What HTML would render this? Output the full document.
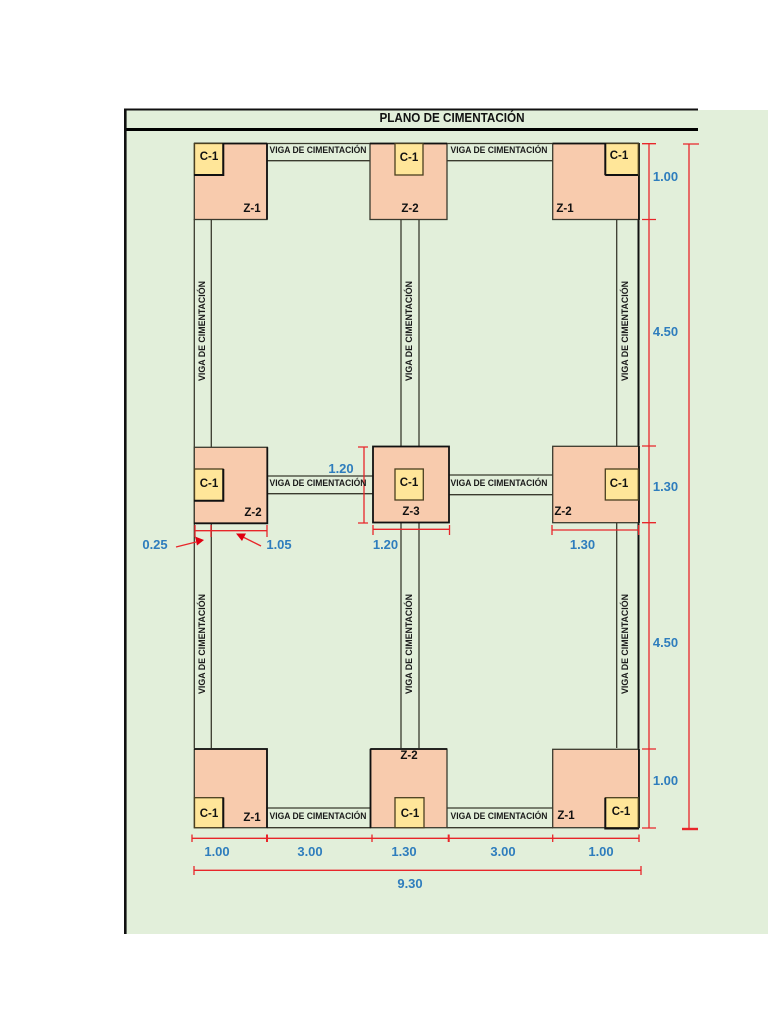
<!DOCTYPE html>
<html><head><meta charset="utf-8"><style>html,body{margin:0;padding:0;background:#fff}svg{display:block;filter:blur(0.3px)}
text{font-family:"Liberation Sans",sans-serif;font-weight:bold;text-anchor:middle}
.v{font-size:9px;fill:#1a1a1a}.z{font-size:11.5px;fill:#111}.b{font-size:13px;fill:#2e7dbd}
.f{fill:#f8cbad}.c{fill:#ffe699}.k{stroke:#3a3a2e;fill:none;stroke-width:1.3}.r{stroke:#e8262a;stroke-width:1.3;fill:none}</style></head>
<body><svg width="768" height="1024" viewBox="0 0 768 1024" xmlns="http://www.w3.org/2000/svg">
<rect x="124" y="110" width="644" height="824" fill="#e2efda"/>
<path d="M124 109.500H698" stroke="#111" stroke-width="2"/>
<path d="M124 129.500H698" stroke="#000" stroke-width="3"/>
<path d="M125.300 109V934" stroke="#111" stroke-width="2.600"/>
<text x="452" y="122" style="font-size:12.500px" fill="#111" textLength="145" lengthAdjust="spacingAndGlyphs">PLANO DE CIMENTACIÓN</text>

<!-- beams -->
<g class="k">
<path d="M267 143.500H370M267 160.700H370M447 143.500H553M447 160.700H553"/>
<path d="M267 476H373M267 493.700H373M449 475H553M449 494.700H553"/>
<path d="M267 808H371M267 827.700H371M447 808H553M447 827.700H553"/>
<path d="M194.300 219V748M211.300 219V748"/>
<path d="M401 219V748M419 219V748"/>
<path d="M616.700 219V748"/>
</g>
<path d="M638.500 219V749" stroke="#111" stroke-width="2"/>

<!-- footings -->
<g class="k">
<rect class="f" x="194.300" y="143.500" width="72.700" height="76"/>
<rect class="f" x="370" y="143.500" width="77" height="76"/>
<rect class="f" x="552.700" y="143.500" width="86" height="76"/>
<rect class="f" x="194.300" y="447.300" width="73" height="76"/>
<rect class="f" x="552.700" y="446.300" width="86" height="76.400"/>
<rect class="f" x="194.300" y="749" width="72.700" height="78.700"/>
<rect class="f" x="370.500" y="749" width="76.500" height="78.700"/>
<rect class="f" x="552.700" y="749.300" width="86" height="78.400"/>
</g>
<rect class="f" x="373" y="446.500" width="76" height="76" stroke="#111" stroke-width="1.800"/>
<g fill="none" stroke="#111" stroke-width="1.800">
<path d="M267 143.500V219.500M194 143.500H267M194 523.300H267.300V447.300M194 749H267V828M370.500 749H447M370.500 749V828M639 143V220M639 446V523M639 749V828M370 143.500H447M552.700 143.500H639"/>
</g>

<!-- columns -->
<g stroke="#4a3f20" stroke-width="1.300">
<rect class="c" x="194.500" y="143.500" width="28.500" height="31.500"/>
<rect class="c" x="395" y="143.500" width="28" height="31.500"/>
<rect class="c" x="605.300" y="143.500" width="33" height="31.500"/>
<rect class="c" x="194.500" y="469" width="28.500" height="31.700"/>
<rect class="c" x="395" y="469" width="28.300" height="31"/>
<rect class="c" x="605.300" y="469" width="33" height="31"/>
<rect class="c" x="194.500" y="797.700" width="28.500" height="30"/>
<rect class="c" x="395" y="797.700" width="29" height="30"/>
<rect class="c" x="605.300" y="797.700" width="33" height="30"/>
</g>
<path d="M194 175H223.300V143M194 500.800H223.300V469M223.300 797.500V828M605.300 175V143M605.300 175H638M605.300 798V828.500H639" fill="none" stroke="#111" stroke-width="2"/>

<!-- dimensions -->
<g class="r">
<path d="M192 838.300H639M192 834.500V842M372 834.500V842M552.700 834.500V842M639 834.500V842"/>
<path d="M267 834.500V842M448.700 834.500V842" stroke-width="2"/>
<path d="M194 870.300H641M194 866V875M641 866V875"/>
<path d="M649 144V828M642 143.700H656M642 219.500H656M642 446H656M642 522.700H656M642 749H656M642 828H656"/>
<path d="M689 144V828M683 144H699"/>
<path d="M364 447V523M358 447H368M358 523H368"/>
<path d="M373 529.300H449.500M373 525V535M449.500 525V535"/>
<path d="M552 530H638.700M552 525V535M638.700 525V535"/>
<path d="M195 530.700H267M195 525V537M211 525V537M267 525V537"/>
</g>
<path d="M682 829H698" stroke="#e8262a" stroke-width="2.400"/>
<path d="M176 547L196 542" stroke="#e8262a" stroke-width="1.400"/>
<path d="M204 540L195 536.500L197 545.500Z" fill="#e00010"/>
<path d="M261 546L243 537" stroke="#e8262a" stroke-width="1.400"/>
<path d="M236 533.500L246 533.500L242 541Z" fill="#e00010"/>

<!-- beam labels -->
<g class="v">
<text x="318" y="153" textLength="97" lengthAdjust="spacingAndGlyphs">VIGA DE CIMENTACIÓN</text>
<text x="499" y="153" textLength="97" lengthAdjust="spacingAndGlyphs">VIGA DE CIMENTACIÓN</text>
<text x="318" y="486" textLength="97" lengthAdjust="spacingAndGlyphs">VIGA DE CIMENTACIÓN</text>
<text x="499" y="486" textLength="97" lengthAdjust="spacingAndGlyphs">VIGA DE CIMENTACIÓN</text>
<text x="318" y="819" textLength="97" lengthAdjust="spacingAndGlyphs">VIGA DE CIMENTACIÓN</text>
<text x="499" y="819" textLength="97" lengthAdjust="spacingAndGlyphs">VIGA DE CIMENTACIÓN</text>
<text transform="translate(205,331) rotate(-90)" textLength="100" lengthAdjust="spacingAndGlyphs">VIGA DE CIMENTACIÓN</text>
<text transform="translate(412,331) rotate(-90)" textLength="100" lengthAdjust="spacingAndGlyphs">VIGA DE CIMENTACIÓN</text>
<text transform="translate(628,331) rotate(-90)" textLength="100" lengthAdjust="spacingAndGlyphs">VIGA DE CIMENTACIÓN</text>
<text transform="translate(205,644) rotate(-90)" textLength="100" lengthAdjust="spacingAndGlyphs">VIGA DE CIMENTACIÓN</text>
<text transform="translate(412,644) rotate(-90)" textLength="100" lengthAdjust="spacingAndGlyphs">VIGA DE CIMENTACIÓN</text>
<text transform="translate(628,644) rotate(-90)" textLength="100" lengthAdjust="spacingAndGlyphs">VIGA DE CIMENTACIÓN</text>
</g>

<!-- element labels -->
<g class="z">
<text x="209" y="160">C-1</text><text x="409" y="161">C-1</text><text x="619" y="159">C-1</text>
<text x="209" y="487">C-1</text><text x="409" y="486">C-1</text><text x="619" y="487">C-1</text>
<text x="209" y="817">C-1</text><text x="410" y="817">C-1</text><text x="621" y="815">C-1</text>
<text x="252" y="212">Z-1</text><text x="410" y="212">Z-2</text><text x="565" y="212">Z-1</text>
<text x="253" y="516">Z-2</text><text x="411" y="515">Z-3</text><text x="563" y="515">Z-2</text>
<text x="252" y="821">Z-1</text><text x="409" y="759">Z-2</text><text x="566" y="819">Z-1</text>
</g>

<!-- dimension labels -->
<g class="b">
<text x="665.500" y="181">1.00</text><text x="665.500" y="336">4.50</text><text x="665.500" y="491">1.30</text>
<text x="665.500" y="647">4.50</text><text x="665.500" y="785">1.00</text>
<text x="341" y="473">1.20</text><text x="385.500" y="549">1.20</text><text x="582.500" y="549">1.30</text>
<text x="155" y="549">0.25</text><text x="279" y="549">1.05</text>
<text x="217" y="856">1.00</text><text x="310" y="856">3.00</text><text x="404" y="856">1.30</text>
<text x="503" y="856">3.00</text><text x="601" y="856">1.00</text><text x="410" y="888">9.30</text>
</g>
</svg></body></html>
